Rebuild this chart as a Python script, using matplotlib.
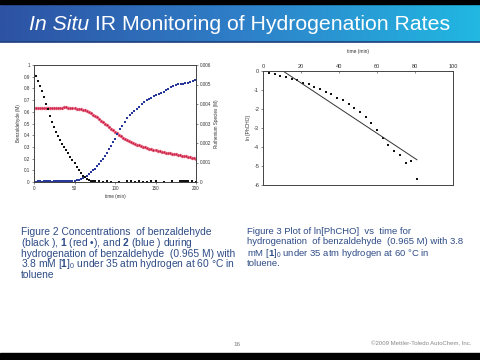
import numpy as np
import matplotlib.pyplot as plt
from matplotlib.patches import Rectangle
from matplotlib.colors import LinearSegmentedColormap

plt.rcParams['font.family'] = ['Liberation Sans', 'DejaVu Sans']
plt.rcParams['mathtext.fontset'] = 'custom'
plt.rcParams['mathtext.rm'] = 'Liberation Sans'
plt.rcParams['mathtext.bf'] = 'Liberation Sans:bold'
plt.rcParams['mathtext.it'] = 'Liberation Sans:italic'
plt.rcParams['axes.unicode_minus'] = False

# Figure 2 data: benzaldehyde (M, left axis)
bz_t = [2.5, 5, 7.5, 10, 12.5, 15, 17.5, 20, 22.5, 25, 27.5, 30, 32.5, 35, 37.5, 40,
        42.5, 45, 47.5, 50, 52.5, 55, 57.5, 60, 62.5, 65, 67.5, 70, 72.5, 75, 80, 85,
        90, 95, 105, 115, 120, 125, 130, 135, 140, 145, 150, 160, 170, 180, 182.5, 185,
        187.5, 190, 195, 200]
bz_c = [0.91, 0.86, 0.82, 0.78, 0.73, 0.67, 0.62, 0.56, 0.51, 0.47, 0.43, 0.39, 0.355, 0.325,
        0.30, 0.27, 0.245, 0.21, 0.185, 0.16, 0.13, 0.105, 0.075, 0.055, 0.04, 0.025, 0.015,
        0.01, 0.008, 0.006, 0.005, 0.004, 0.006, 0.004, 0.003, 0.005, 0.006, 0.004, 0.005,
        0.003, 0.004, 0.006, 0.005, 0.004, 0.006, 0.008, 0.01, 0.009, 0.007, 0.006, 0.005, 0.004]

# species 1 (red), mM -> right axis
ru1_t = [0, 2.5, 5, 7.5, 10, 12.5, 15, 17.5, 20, 22.5, 25, 27.5, 30, 32.5, 35, 37.5, 40,
         42.5, 45, 47.5, 50, 52.5, 55, 57.5, 60, 62.5, 65, 67.5, 70, 72.5, 75, 77.5, 80,
         82.5, 85, 87.5, 90, 92.5, 95, 97.5, 100, 102.5, 105, 107.5, 110, 112.5, 115, 117.5,
         120, 122.5, 125, 127.5, 130, 132.5, 135, 137.5, 140, 142.5, 145, 147.5, 150, 152.5,
         155, 157.5, 160, 162.5, 165, 167.5, 170, 172.5, 175, 177.5, 180, 182.5, 185, 187.5,
         190, 192.5, 195, 197.5, 200]
ru1_mM = [3.78, 3.80, 3.79, 3.81, 3.80, 3.82, 3.80, 3.79, 3.81, 3.80, 3.82, 3.81, 3.80, 3.82,
          3.81, 3.83, 3.84, 3.81, 3.79, 3.78, 3.77, 3.76, 3.74, 3.73, 3.70, 3.67, 3.63, 3.58,
          3.52, 3.46, 3.40, 3.32, 3.24, 3.14, 3.06, 2.98, 2.90, 2.82, 2.74, 2.66, 2.58, 2.50,
          2.42, 2.34, 2.28, 2.22, 2.16, 2.10, 2.04, 2.00, 1.96, 1.92, 1.88, 1.85, 1.82, 1.78,
          1.74, 1.71, 1.68, 1.65, 1.62, 1.60, 1.57, 1.55, 1.53, 1.51, 1.49, 1.47, 1.45, 1.44,
          1.42, 1.40, 1.37, 1.35, 1.33, 1.31, 1.29, 1.27, 1.25, 1.22, 1.20]

# species 2 (blue), mM -> right axis
ru2_t = [0, 2.5, 5, 7.5, 10, 12.5, 15, 17.5, 20, 22.5, 25, 27.5, 30, 32.5, 35, 37.5, 40,
         42.5, 45, 47.5, 50, 52.5, 55, 57.5, 60, 62.5, 65, 67.5, 70, 72.5, 75, 77.5, 80,
         82.5, 85, 87.5, 90, 92.5, 95, 97.5, 100, 103, 106, 109, 112, 115, 118, 121, 124,
         127, 130, 133, 136, 139, 142, 145, 148, 151, 154, 157, 160, 163, 166, 169, 172,
         175, 178, 181, 184, 187, 190, 193, 196, 199]
ru2_mM = [0.03, 0.024, 0.036, 0.03, 0.024, 0.036, 0.042, 0.03, 0.036, 0.024, 0.03, 0.036,
          0.042, 0.03, 0.036, 0.048, 0.042, 0.054, 0.048, 0.06, 0.072, 0.09, 0.12, 0.16,
          0.20, 0.25, 0.33, 0.41, 0.49, 0.59, 0.69, 0.81, 0.93, 1.07, 1.20, 1.33, 1.50, 1.68,
          1.86, 2.04, 2.22, 2.46, 2.70, 2.88, 3.09, 3.27, 3.45, 3.54, 3.63, 3.75, 3.87, 3.99,
          4.11, 4.20, 4.26, 4.32, 4.41, 4.47, 4.53, 4.56, 4.62, 4.71, 4.77, 4.86, 4.92, 4.95,
          5.01, 5.04, 5.01, 5.07, 5.10, 5.13, 5.16, 5.22]

left_ticks = [0, 0.1, 0.2, 0.3, 0.4, 0.5, 0.6, 0.7, 0.8, 0.9, 1]
left_labels = ["0", "0.1", "0.2", "0.3", "0.4", "0.5", "0.6", "0.7", "0.8", "0.9", "1"]
right_ticks = [0, 1, 2, 3, 4, 5, 6]
right_labels = ["0", "0.001", "0.002", "0.003", "0.004", "0.005", "0.006"]

# Figure 3 data: ln[PhCHO] vs time
ln_t = [3.2, 6.1, 9.1, 12.3, 15.3, 18, 21, 24, 27, 30, 33, 36, 39, 42, 45, 48, 51, 54,
        57, 60, 63, 66, 69, 72, 75, 78, 81]
ln_y = [-0.09, -0.18, -0.25, -0.32, -0.40, -0.49, -0.61, -0.70, -0.82, -0.96, -1.09, -1.21,
        -1.40, -1.53, -1.74, -1.95, -2.18, -2.44, -2.72, -3.12, -3.53, -3.91, -4.19, -4.44,
        -4.84, -4.72, -5.70]
fit_t = [10.5, 81]
fit_y = [0, -4.67]

title_it = "In Situ"
title_rest = " IR Monitoring of Hydrogenation Rates"
cap2 = ["Figure 2 Concentrations  of benzaldehyde",
        "(black ), $\\mathbf{1}$ (red \u2022), and $\\mathbf{2}$ (blue ) during",
        "hydrogenation of benzaldehyde  (0.965 M) with",
        "3.8 mM [$\\mathbf{1}$]$_0$ under 35 atm hydrogen at 60 \u00b0C in",
        "toluene"]
cap3 = ["Figure 3 Plot of ln[PhCHO]  vs  time for",
        "hydrogenation  of benzaldehyde  (0.965 M) with 3.8",
        "mM [$\\mathbf{1}$]$_0$ under 35 atm hydrogen at 60 \u00b0C in",
        "toluene."]

W, H = 480, 360
fig = plt.figure(figsize=(4.8, 3.6), dpi=100)
fig.patch.set_facecolor('white')

# slide background
bg = fig.add_axes([0, 0, 1, 1])
band = LinearSegmentedColormap.from_list('band', ['#2d52a3', '#2f7fc8', '#21b8e2'])
bg.imshow(np.linspace(0, 1, 256).reshape(1, -1), cmap=band, extent=(0, W, 42, 4),
          aspect='auto', zorder=1)
bg.add_patch(Rectangle((0, 0), W, 4, color='black', zorder=2))
bg.add_patch(Rectangle((0, 353), W, 7, color='black', zorder=2))
bg.plot([0, W], [42, 42], color='#1d3f7a', lw=1.2, zorder=3)
bg.set_xlim(0, W)
bg.set_ylim(H, 0)
bg.axis('off')

t1 = bg.text(29, 24, title_it, style='italic', color='white', fontsize=15.3, va='center')
fig.canvas.draw()
x1 = t1.get_window_extent().x1
bg.text(x1, 24, title_rest, color='white', fontsize=15.3, va='center')

# captions, one line at a time for even spacing
capcol = '#2e4c86'
for i, line in enumerate(cap2):
    bg.text(21, 232 + 10.8 * i, line, color=capcol, fontsize=7.4, va='center')
for i, line in enumerate(cap3):
    bg.text(247, 231 + 11 * i, line, color=capcol, fontsize=6.8, va='center')
bg.text(237, 344, "16", color='#777777', fontsize=4.5, ha='center', va='center')
bg.text(471, 344, "\u00a92009 Mettler-Toledo AutoChem, Inc.", color='#888888',
        fontsize=4.3, ha='right', va='center')

# Figure 2
ax1 = fig.add_axes([34 / W, 1 - 182 / H, 162 / W, 117 / H])
ax1r = ax1.twinx()
ax1r.plot(ru1_t, ru1_mM, 'o', ms=2.1, color='#c8143a', mec='#f08aa0', mew=0.4)
ax1r.plot(ru2_t, ru2_mM, 's', ms=1.6, color='#28389a', mew=0)
ax1.plot(bz_t, bz_c, 's', ms=1.7, color='#111111', mew=0)
ax1.set_zorder(ax1r.get_zorder() + 1)
ax1.patch.set_visible(False)
ax1.set_xlim(0, 200)
ax1.set_ylim(0, 1)
ax1r.set_ylim(0, 6)
ax1.set_xticks([0, 50, 100, 150, 200])
ax1.set_yticks(left_ticks)
ax1.set_yticklabels(left_labels)
ax1r.set_yticks(right_ticks)
ax1r.set_yticklabels(right_labels)
for a in (ax1, ax1r):
    a.tick_params(labelsize=3.3, length=1.5, width=0.4, pad=1.5, colors='#333333')
    for s in a.spines.values():
        s.set_linewidth(0.6)
        s.set_color('#444444')
ax1.set_xlabel("time (min)", fontsize=3.3, labelpad=2, color='#333333')
ax1.set_ylabel("Benzaldehyde (M)", fontsize=3.3, labelpad=2, color='#333333')
ax1r.set_ylabel("Ruthenium Species (M)", fontsize=3.3, labelpad=2, color='#333333')

# Figure 3
ax2 = fig.add_axes([263 / W, 1 - 185 / H, 190 / W, 114 / H])
ax2.plot(ln_t, ln_y, 's', ms=1.7, color='#111111', mew=0)
ax2.plot(fit_t, fit_y, '-', color='#333333', lw=0.7)
ax2.set_xlim(0, 100)
ax2.set_ylim(-6, 0)
ax2.set_xticks([0, 20, 40, 60, 80, 100])
ax2.set_yticks([-6, -5, -4, -3, -2, -1, 0])
ax2.xaxis.tick_top()
ax2.xaxis.set_label_position('top')
ax2.tick_params(axis='x', direction='in')
ax2.tick_params(labelsize=4, length=1.5, width=0.4, pad=1.2, colors='#333333')
for s in ax2.spines.values():
    s.set_linewidth(0.7)
    s.set_color('#444444')
ax2.set_xlabel("time (min)", fontsize=3.5, labelpad=8, color='#333333')
ax2.set_ylabel("ln [PhCHO]", fontsize=3.5, labelpad=2, color='#333333')

fig.savefig("out.png", dpi=100)
